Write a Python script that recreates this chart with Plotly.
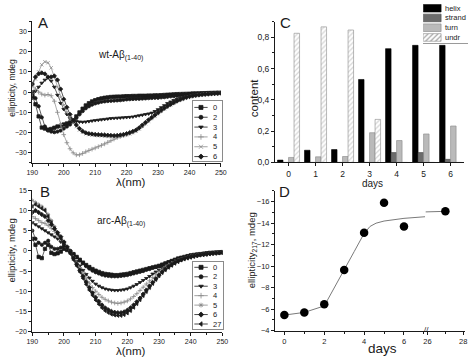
import plotly.graph_objects as go

W, H = 474, 362
def fx(p): return p / W
def fy(p): return 1 - p / H

FONT = "Liberation Sans, Arial, sans-serif"
INK = "#1a1a1a"
GREY = "#8a8a8a"

# ---------------- data ----------------
wavelength = list(range(190, 251))

wt_labels = ["0", "2", "3", "4", "5", "6"]
wt_0 = [-2.0,-6.0,-12.0,-17.5,-18.0,-18.5,-18.2,-17.6,-17.0,-16.6,
        -16.0,-15.5,-15.0,-14.0,-12.0,-10.0,-8.2,-6.6,-5.5,-4.6,
        -4.0,-3.5,-3.1,-2.8,-2.6,-2.4,-2.3,-2.2,-2.2,-2.1,
        -2.0,-2.0,-1.9,-1.9,-1.8,-1.8,-1.8,-1.7,-1.7,-1.6,
        -1.6,-1.5,-1.4,-1.3,-1.2,-1.1,-1.0,-0.95,-0.9,-0.85,
        -0.8,-0.7,-0.65,-0.6,-0.55,-0.5,-0.45,-0.4,-0.35,-0.3,
        -0.3]
wt_2 = [0.0,-3.0,-7.0,-12.5,-17.0,-19.0,-19.5,-19.8,-19.5,-19.0,
        -18.0,-17.0,-16.0,-14.6,-12.8,-11.0,-9.4,-8.0,-7.0,-6.2,
        -5.6,-5.2,-4.8,-4.6,-4.4,-4.3,-4.2,-4.1,-4.0,-3.8,
        -3.6,-3.5,-3.4,-3.3,-3.3,-3.2,-3.1,-3.0,-2.9,-2.8,
        -2.8,-2.6,-2.5,-2.3,-2.1,-2.0,-1.8,-1.6,-1.4,-1.3,
        -1.2,-1.1,-1.0,-0.9,-0.8,-0.7,-0.65,-0.6,-0.5,-0.45,
        -0.4]
wt_3 = [-3.0,0.5,2.5,4.5,6.0,7.0,5.5,2.5,-1.5,-5.5,
        -8.5,-11.0,-13.0,-14.0,-14.5,-14.7,-14.8,-14.7,-14.5,-14.2,
        -14.0,-13.8,-13.6,-13.4,-13.2,-13.0,-12.9,-12.8,-12.7,-12.6,
        -12.5,-12.4,-12.2,-11.9,-11.6,-11.3,-11.0,-10.7,-10.3,-9.5,
        -8.6,-7.6,-6.6,-5.6,-4.8,-4.1,-3.5,-3.0,-2.6,-2.2,
        -1.9,-1.7,-1.5,-1.3,-1.15,-1.0,-0.9,-0.8,-0.7,-0.65,
        -0.6]
wt_4 = [3.0,1.5,0.0,-1.0,-1.5,-1.2,-1.8,-4.5,-10.0,-16.0,
        -21.0,-25.0,-28.0,-30.0,-31.0,-31.0,-30.3,-29.5,-28.8,-28.2,
        -27.6,-27.0,-26.3,-25.6,-24.8,-24.0,-23.2,-22.5,-21.9,-21.4,
        -20.9,-20.4,-19.8,-19.1,-18.0,-16.7,-15.4,-14.1,-12.9,-11.7,
        -10.5,-9.3,-8.2,-7.2,-6.3,-5.4,-4.6,-3.9,-3.3,-2.8,
        -2.4,-2.0,-1.7,-1.5,-1.3,-1.15,-1.0,-0.9,-0.8,-0.7,
        -0.6]
wt_5 = [3.0,6.5,10.0,13.5,15.0,14.5,12.0,7.5,2.5,-2.5,
        -6.5,-10.0,-13.0,-15.0,-17.0,-18.7,-19.8,-20.6,-21.0,-21.2,
        -21.4,-21.5,-21.6,-21.7,-21.8,-21.9,-22.0,-22.0,-21.8,-21.5,
        -21.1,-20.6,-20.0,-19.3,-18.2,-16.9,-15.6,-14.3,-13.0,-11.8,
        -10.6,-9.4,-8.3,-7.3,-6.3,-5.4,-4.6,-3.9,-3.3,-2.8,
        -2.4,-2.0,-1.7,-1.5,-1.3,-1.1,-1.0,-0.9,-0.8,-0.7,
        -0.6]
wt_6 = [4.0,7.5,9.0,9.5,9.0,7.5,7.5,8.0,6.0,1.5,
        -3.5,-7.5,-11.0,-14.0,-16.2,-18.0,-19.3,-20.1,-20.5,-20.7,
        -20.9,-21.0,-21.1,-21.2,-21.3,-21.4,-21.5,-21.4,-21.2,-20.9,
        -20.5,-20.0,-19.4,-18.7,-17.6,-16.3,-15.0,-13.7,-12.5,-11.3,
        -10.1,-9.0,-7.9,-6.9,-6.0,-5.2,-4.4,-3.7,-3.1,-2.6,
        -2.2,-1.9,-1.6,-1.4,-1.2,-1.05,-0.95,-0.85,-0.75,-0.65,
        -0.55]

arc_labels = ["0", "2", "3", "4", "5", "6", "27"]
arc_0 = [3.0,1.5,-1.5,-1.8,0.5,1.5,-0.5,-0.8,-0.6,-0.2,
         0.5,0.2,-0.2,-0.8,-1.5,-2.2,-2.9,-3.5,-4.0,-4.5,
         -4.9,-5.2,-5.5,-5.7,-5.8,-5.9,-6.0,-6.0,-5.9,-5.8,
         -5.7,-5.5,-5.3,-5.1,-4.9,-4.7,-4.5,-4.3,-4.1,-3.9,
         -3.7,-3.4,-3.1,-2.8,-2.5,-2.2,-1.9,-1.7,-1.5,-1.3,
         -1.1,-1.0,-0.9,-0.8,-0.7,-0.6,-0.5,-0.45,-0.4,-0.35,
         -0.3]
arc_2 = [5.0,3.0,2.0,1.5,2.0,2.5,1.0,0.5,0.5,0.8,
         1.2,0.5,0.0,-0.8,-1.6,-2.4,-3.1,-3.8,-4.4,-4.9,
         -5.3,-5.6,-5.9,-6.1,-6.2,-6.3,-6.3,-6.3,-6.2,-6.1,
         -6.0,-5.8,-5.6,-5.4,-5.2,-5.0,-4.7,-4.5,-4.2,-4.0,
         -3.8,-3.5,-3.2,-2.9,-2.6,-2.3,-2.0,-1.8,-1.6,-1.4,
         -1.2,-1.05,-0.95,-0.85,-0.75,-0.65,-0.55,-0.5,-0.45,-0.4,
         -0.35]
arc_3 = [7.0,6.5,6.0,5.5,5.0,4.5,4.0,3.5,3.0,2.2,
         1.5,0.5,-0.5,-1.5,-2.6,-3.7,-4.8,-5.8,-6.7,-7.5,
         -8.2,-8.7,-9.1,-9.4,-9.6,-9.7,-9.8,-9.8,-9.7,-9.6,
         -9.4,-9.1,-8.7,-8.3,-7.8,-7.3,-6.8,-6.3,-5.7,-5.2,
         -4.7,-4.2,-3.7,-3.3,-2.9,-2.5,-2.2,-1.9,-1.6,-1.4,
         -1.2,-1.05,-0.95,-0.85,-0.75,-0.65,-0.55,-0.5,-0.45,-0.4,
         -0.35]
arc_4 = [8.5,8.0,7.5,7.0,6.8,6.3,5.6,4.8,4.0,3.0,
         2.0,0.8,-0.4,-1.6,-2.9,-4.2,-5.5,-6.8,-8.0,-9.1,
         -10.0,-10.8,-11.5,-12.0,-12.4,-12.7,-12.9,-13.0,-12.9,-12.7,
         -12.4,-11.9,-11.3,-10.6,-9.8,-9.0,-8.2,-7.4,-6.6,-5.9,
         -5.2,-4.6,-4.0,-3.5,-3.1,-2.7,-2.4,-2.1,-1.8,-1.6,
         -1.4,-1.25,-1.1,-1.0,-0.9,-0.8,-0.7,-0.6,-0.55,-0.5,
         -0.45]
arc_5 = [12.5,12.0,11.5,11.0,10.3,9.0,7.5,6.0,4.5,3.2,
         2.0,0.8,-0.5,-2.0,-3.5,-5.0,-6.6,-8.1,-9.5,-10.8,
         -12.0,-13.0,-13.9,-14.6,-15.1,-15.5,-15.8,-15.9,-15.9,-15.7,
         -15.3,-14.7,-13.9,-13.0,-12.0,-11.0,-10.0,-9.0,-8.0,-7.0,
         -6.1,-5.3,-4.6,-4.0,-3.5,-3.0,-2.6,-2.3,-2.0,-1.7,
         -1.5,-1.3,-1.15,-1.0,-0.9,-0.8,-0.7,-0.6,-0.55,-0.5,
         -0.45]
arc_6 = [9.5,10.0,9.5,9.0,8.5,7.5,6.5,5.5,4.5,3.5,
         2.2,1.0,-0.3,-1.8,-3.3,-4.8,-6.3,-7.7,-9.1,-10.4,
         -11.5,-12.5,-13.4,-14.1,-14.6,-15.0,-15.2,-15.3,-15.3,-15.1,
         -14.7,-14.1,-13.4,-12.6,-11.7,-10.7,-9.7,-8.7,-7.8,-6.9,
         -6.0,-5.2,-4.5,-3.9,-3.4,-2.9,-2.5,-2.2,-1.9,-1.7,
         -1.5,-1.3,-1.15,-1.0,-0.9,-0.8,-0.7,-0.6,-0.55,-0.5,
         -0.45]
arc_27 = [11.0,11.5,11.0,10.5,10.0,8.5,7.0,5.5,4.2,3.0,
          1.8,0.6,-0.7,-2.2,-3.7,-5.2,-6.8,-8.3,-9.7,-11.0,
          -12.2,-13.2,-14.1,-14.8,-15.3,-15.7,-15.9,-16.0,-16.0,-15.8,
          -15.4,-14.8,-14.0,-13.1,-12.1,-11.1,-10.1,-9.1,-8.1,-7.1,
          -6.2,-5.4,-4.7,-4.1,-3.6,-3.1,-2.7,-2.3,-2.0,-1.8,
          -1.6,-1.4,-1.2,-1.05,-0.95,-0.85,-0.75,-0.65,-0.6,-0.55,
          -0.5]

content_days = [0, 1, 2, 3, 4, 5, 6]
helix = [0.015, 0.078, 0.082, 0.53, 0.727, 0.748, 0.748]
strand = [0.0, 0.0, 0.0, 0.0, 0.063, 0.063, 0.02]
turn = [0.032, 0.036, 0.038, 0.19, 0.14, 0.182, 0.233]
undr = [0.825, 0.866, 0.846, 0.275, 0.0, 0.0, 0.0]
content_names = ["helix", "strand", "turn", "undr"]

ell_days = [0, 1, 2, 3, 4, 5, 6]
ell_217 = [-5.45, -5.7, -6.45, -9.65, -13.1, -15.9, -13.7]
late_days = [27]
late_ell = [-15.1]
fit_days = [0, 1, 2, 2.5, 3, 3.5, 4, 4.3, 4.6, 5, 6, 7.06]
fit_ell = [-5.45, -5.7, -6.3, -7.95, -9.65, -11.35, -13.05, -13.7, -14.0, -14.2, -14.45, -14.6]
fit_late_days = [25.9, 27]
fit_late_ell = [-15.05, -15.1]
late_ticks = [26, 28]

# ---------------- styles ----------------
wt_series = [wt_0, wt_2, wt_3, wt_4, wt_5, wt_6]
wt_symbols = ["square", "circle", "triangle-down", "cross-thin-open", "x-thin-open", "diamond"]
wt_colors = [INK, INK, INK, GREY, GREY, INK]
arc_series = [arc_0, arc_2, arc_3, arc_4, arc_5, arc_6, arc_27]
arc_symbols = ["square", "circle", "triangle-down", "cross-thin-open", "asterisk-open", "diamond", "triangle-left"]
arc_colors = [INK, INK, INK, GREY, GREY, INK, INK]

fig = go.Figure()
ann = []

def add_curves(series, labels, symbols, colors, xa, ya, legx, legy):
    for i, (vals, lab, sym, col) in enumerate(zip(series, labels, symbols, colors)):
        mk = dict(symbol=sym, size=3.3, color=col, line=dict(color=col, width=0.8))
        fig.add_trace(go.Scatter(x=wavelength, y=vals, mode="lines+markers", xaxis=xa, yaxis=ya,
                                 line=dict(color=col, width=0.7), marker=mk, name=lab,
                                 showlegend=False))
        # compact legend sample
        fig.add_trace(go.Scatter(x=[0.05, 0.5], y=[i, i], mode="lines", xaxis=legx, yaxis=legy,
                                 line=dict(color=col, width=0.8), showlegend=False, hoverinfo="skip"))
        fig.add_trace(go.Scatter(x=[0.275], y=[i], mode="markers", xaxis=legx, yaxis=legy,
                                 marker=dict(symbol=sym, size=4, color=col, line=dict(color=col, width=0.8)),
                                 showlegend=False, hoverinfo="skip"))
        ann.append(dict(x=0.6, y=i, xref=legx, yref=legy, text=lab, showarrow=False,
                        xanchor="left", yanchor="middle", font=dict(size=7.5, color=INK, family=FONT)))

add_curves(wt_series, wt_labels, wt_symbols, wt_colors, "x", "y", "x6", "y6")
add_curves(arc_series, arc_labels, arc_symbols, arc_colors, "x2", "y2", "x7", "y7")

# Panel C bars
bar_fill = ["#000000", "#6c6c6c", "#bababa", "white"]
bar_edge = ["#000000", "#444444", "#888888", "#8a8a8a"]
bar_pat = ["", "", "", "/"]
for name, vals, fc, ec, pt in zip(content_names, [helix, strand, turn, undr], bar_fill, bar_edge, bar_pat):
    mk = dict(color=fc, line=dict(color=ec, width=0.6))
    if pt:
        mk["pattern"] = dict(shape=pt, fgcolor="#a8a8a8", bgcolor="white", size=3.5, solidity=0.35)
    fig.add_trace(go.Bar(x=content_days, y=vals, name=name, marker=mk, xaxis="x3", yaxis="y3",
                         showlegend=False))
# Panel C legend swatches
fig.add_trace(go.Bar(x=[1] * len(content_names), y=list(range(len(content_names))), orientation="h",
                     xaxis="x8", yaxis="y8", width=0.78, showlegend=False, hoverinfo="skip",
                     marker=dict(color=bar_fill, line=dict(color=bar_edge, width=0.6),
                                 pattern=dict(shape=bar_pat, fgcolor="#a8a8a8", bgcolor=bar_fill,
                                              size=3.5, solidity=0.35))))
for i, name in enumerate(content_names):
    ann.append(dict(x=fx(448.5), y=i, xref="paper", yref="y8", text=name, showarrow=False,
                    xanchor="left", yanchor="middle", font=dict(size=7.5, color=INK, family=FONT)))

# Panel D
fig.add_trace(go.Scatter(x=fit_days, y=fit_ell, mode="lines", xaxis="x4", yaxis="y4",
                         line=dict(color="#7a7a7a", width=1), showlegend=False))
fig.add_trace(go.Scatter(x=fit_late_days, y=fit_late_ell, mode="lines", xaxis="x5", yaxis="y4",
                         line=dict(color="#7a7a7a", width=1), showlegend=False, cliponaxis=False))
fig.add_trace(go.Scatter(x=ell_days, y=ell_217, mode="markers", xaxis="x4", yaxis="y4",
                         marker=dict(color="black", size=8.5), showlegend=False, cliponaxis=False))
fig.add_trace(go.Scatter(x=late_days, y=late_ell, mode="markers", xaxis="x5", yaxis="y4",
                         marker=dict(color="black", size=8.5), showlegend=False, cliponaxis=False))

# ---------------- axes ----------------
def ax(**kw):
    base = dict(showgrid=False, zeroline=False, showline=True, linecolor=INK, linewidth=1,
                ticks="outside", ticklen=3, tickwidth=1, tickcolor=INK,
                tickfont=dict(size=7, color=INK, family=FONT))
    base.update(kw)
    return base

def minor(d):
    return dict(dtick=d, ticks="outside", ticklen=2, tickcolor=INK, showgrid=False)

def legax(**kw):
    base = dict(showgrid=False, zeroline=False, showticklabels=False, ticks="", fixedrange=True,
                showline=True, linecolor="#8a8a8a", linewidth=1, mirror=True)
    base.update(kw)
    return base

tf8 = dict(size=8.5, color=INK, family=FONT)
tf75 = dict(size=7.5, color=INK, family=FONT)

layout = dict(
    width=W, height=H, autosize=False,
    margin=dict(l=0, r=0, t=0, b=0),
    paper_bgcolor="white", plot_bgcolor="white",
    font=dict(family=FONT, color=INK),
    separators=",.",
    barmode="group", bargap=0.184, bargroupgap=0,
    xaxis=ax(domain=[fx(27), fx(220.5)], range=[190, 250], anchor="y", tick0=190, dtick=10, minor=minor(5)),
    yaxis=ax(domain=[fy(163), fy(17.7)], range=[-35, 35], anchor="x", tick0=0, dtick=10, minor=minor(5)),
    xaxis2=ax(domain=[fx(27), fx(222)], range=[190, 250], anchor="y2", tick0=190, dtick=10, minor=minor(5)),
    yaxis2=ax(domain=[fy(336), fy(191)], range=[-20, 15], anchor="x2", tick0=0, dtick=5, minor=minor(2.5)),
    xaxis3=ax(domain=[fx(276), fx(470)], range=[-0.5, 6.5], anchor="y3", tick0=0, dtick=1, tickfont=tf8),
    yaxis3=ax(domain=[fy(162.5), fy(18)], range=[0, 0.9], anchor="x3", tick0=0, dtick=0.2, tickformat=".1f",
              minor=minor(0.1), tickfont=tf8),
    xaxis4=ax(domain=[fx(276), fx(430)], range=[-0.47, 7.06], anchor="y4", tick0=0, dtick=2, minor=minor(1),
              tickfont=tf75),
    xaxis5=ax(domain=[fx(430), fx(471)], range=[25.87, 28.1], anchor="y4", tickmode="array",
              tickvals=late_ticks, ticktext=[str(t) for t in late_ticks], ticklabeloverflow="allow",
              minor=dict(tickvals=[27], ticks="outside", ticklen=2, tickcolor=INK), tickfont=tf75),
    yaxis4=ax(domain=[fy(335), fy(191.7)], range=[-4, -17], anchor="x4", tick0=-4, dtick=2, minor=minor(1),
              tickfont=tf75),
    xaxis6=legax(domain=[fx(191.7), fx(222)], range=[0, 1], anchor="y6"),
    yaxis6=legax(domain=[fy(160.5), fy(99)], range=[5.4, -0.7], anchor="x6"),
    xaxis7=legax(domain=[fx(191.7), fx(222.3)], range=[0, 1], anchor="y7"),
    yaxis7=legax(domain=[fy(333.3), fy(265)], range=[6.53, -0.52], anchor="x7"),
    xaxis8=legax(domain=[fx(428), fx(474)], range=[0, 2.5], anchor="y8", mirror=False, linecolor="#9a9a9a"),
    yaxis8=legax(domain=[fy(40), fy(0)], range=[3.57, -0.43], anchor="x8", showline=False),
)

def pa(px, py, text, size, angle=0, **kw):
    d = dict(x=fx(px), y=fy(py), xref="paper", yref="paper", text=text, showarrow=False,
             xanchor="center", yanchor="middle", textangle=angle,
             font=dict(size=size, color=INK, family=FONT))
    d.update(kw)
    return d

ann += [
    pa(37.5, 19, "A", 15), pa(40, 192, "B", 15), pa(287, 18.5, "C", 15), pa(285.5, 192, "D", 15),
    pa(117, 53, "wt-Aβ<sub>(1-40)</sub>", 10),
    pa(118, 223, "arc-Aβ<sub>(1-40)</sub>", 10),
    pa(128, 183, "λ(nm)", 11.5), pa(128, 356, "λ(nm)", 11.5),
    pa(6, 86, "ellipticity, mdeg", 8.5, angle=-90),
    pa(6, 253, "ellipticity, mdeg", 9.5, angle=-90),
    pa(254, 96, "content", 11.5, angle=-90),
    pa(376, 184, "days", 10),
    pa(252, 253, "ellipticity<sub>217</sub>, mdeg", 9.5, angle=-90),
    pa(386, 353, "days", 13.5),
    pa(431, 334, "//", 8),
]
layout["annotations"] = ann
fig.update_layout(**layout)
fig.write_html("out.html", config={"displayModeBar": False},
               post_script="document.body.style.margin='0';document.body.style.overflow='hidden';")
